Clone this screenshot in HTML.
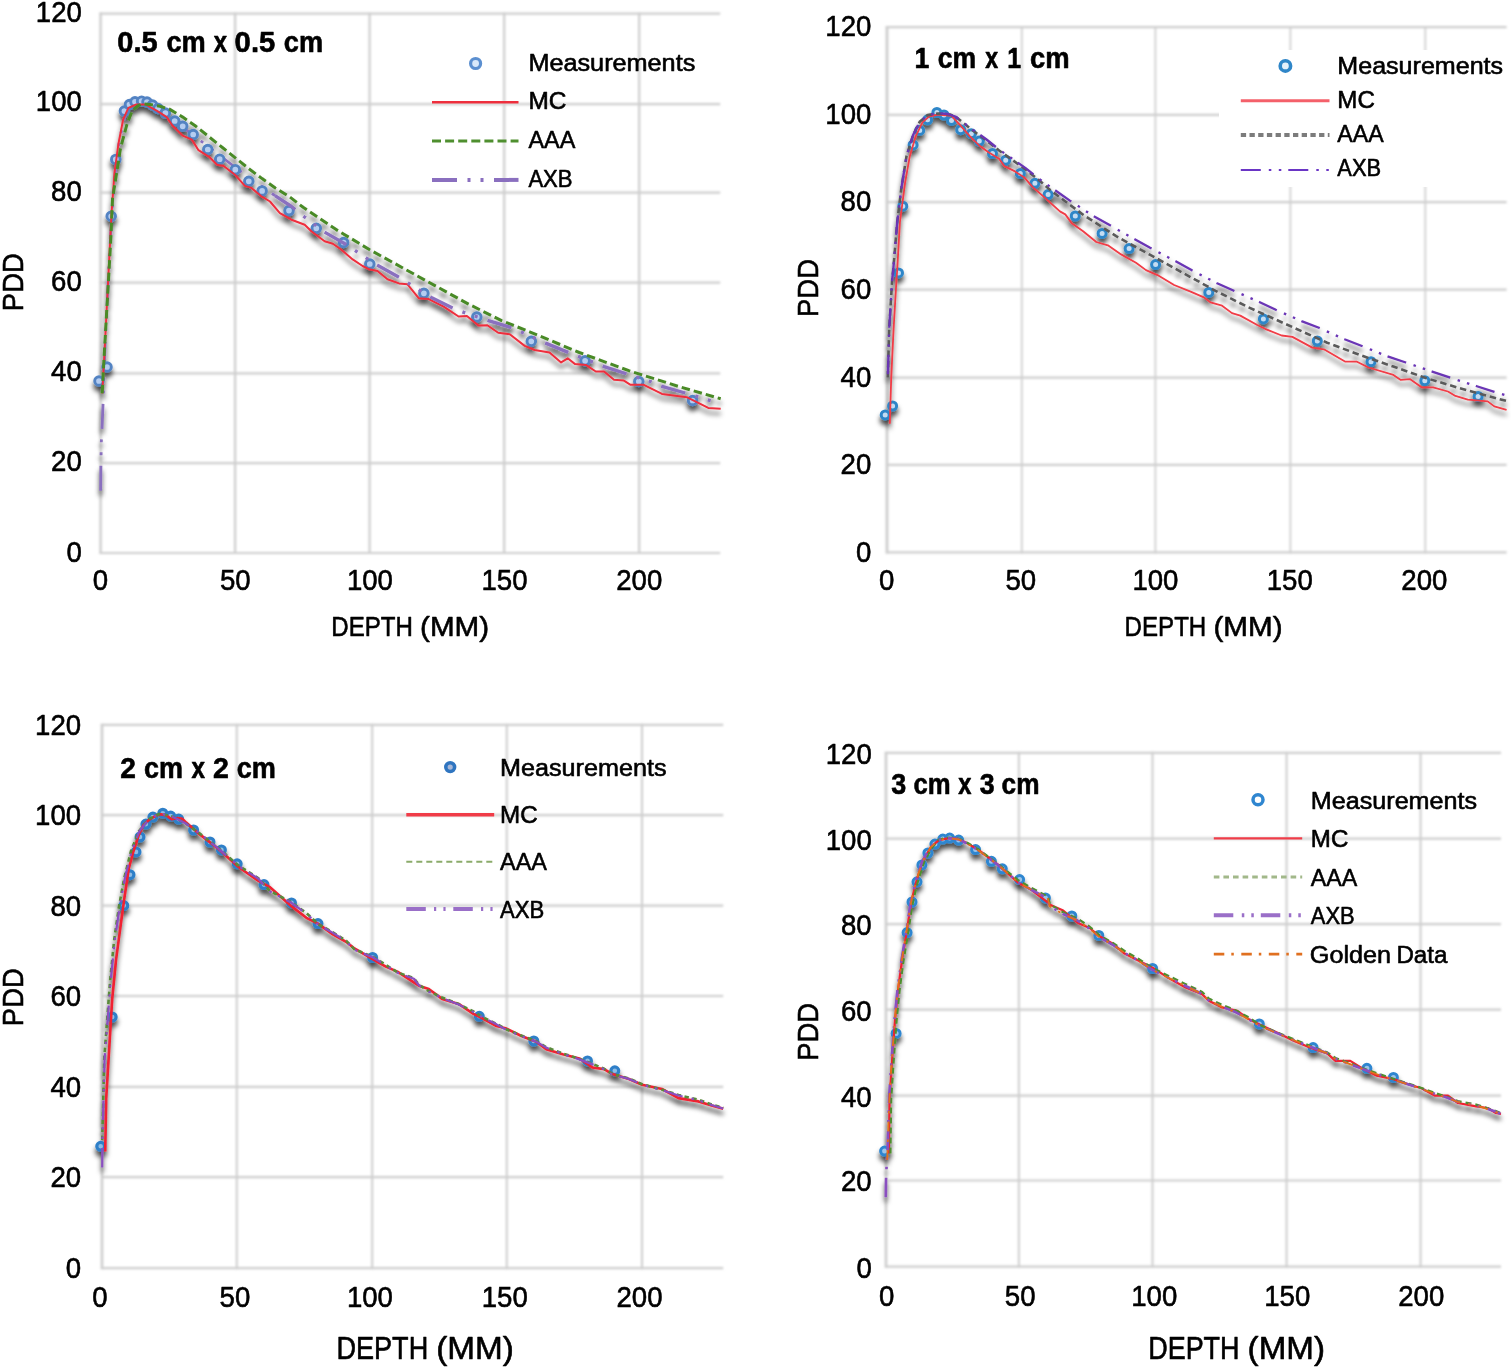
<!DOCTYPE html>
<html lang="en">
<head>
<meta charset="utf-8">
<title>PDD curves: Measurements, MC, AAA, AXB</title>
<style>
html,body{margin:0;padding:0;background:#fff;}
body{width:1511px;height:1368px;overflow:hidden;}
svg{display:block;}
svg text{font-family:"Liberation Sans",sans-serif;fill:#000;stroke:#000;stroke-width:0.6px;stroke-linejoin:round;}
</style>
</head>
<body>
<svg width="1511" height="1368" viewBox="0 0 1511 1368">
<defs><filter id="bl" x="-5%" y="-5%" width="110%" height="110%"><feGaussianBlur stdDeviation="0.8"/></filter><filter id="sh1" x="-5%" y="-5%" width="110%" height="115%"><feGaussianBlur in="SourceAlpha" stdDeviation="2.6" result="a"/><feOffset in="a" dx="-0.5" dy="5.2" result="b"/><feFlood flood-color="#000" flood-opacity="0.7"/><feComposite in2="b" operator="in" result="c"/><feMerge><feMergeNode in="c"/><feMergeNode in="SourceGraphic"/></feMerge></filter><filter id="sh2" x="-5%" y="-5%" width="110%" height="115%"><feGaussianBlur in="SourceAlpha" stdDeviation="2.6" result="a"/><feOffset in="a" dx="-0.5" dy="5.2" result="b"/><feFlood flood-color="#000" flood-opacity="0.7"/><feComposite in2="b" operator="in" result="c"/><feMerge><feMergeNode in="c"/><feMergeNode in="SourceGraphic"/></feMerge></filter><filter id="sh3" x="-5%" y="-5%" width="110%" height="115%"><feGaussianBlur in="SourceAlpha" stdDeviation="2.6" result="a"/><feOffset in="a" dx="-0.5" dy="5.2" result="b"/><feFlood flood-color="#000" flood-opacity="0.7"/><feComposite in2="b" operator="in" result="c"/><feMerge><feMergeNode in="c"/><feMergeNode in="SourceGraphic"/></feMerge></filter><filter id="sh4" x="-5%" y="-5%" width="110%" height="115%"><feGaussianBlur in="SourceAlpha" stdDeviation="2.6" result="a"/><feOffset in="a" dx="-0.5" dy="5.2" result="b"/><feFlood flood-color="#000" flood-opacity="0.7"/><feComposite in2="b" operator="in" result="c"/><feMerge><feMergeNode in="c"/><feMergeNode in="SourceGraphic"/></feMerge></filter></defs>
<rect x="0" y="0" width="1511" height="1368" fill="#fff"/>
<g id="chart1">
<g class="grid" filter="url(#bl)"><line x1="99.5" y1="13.7" x2="720.2" y2="13.7" stroke="#cecece" stroke-width="2.2"/><line x1="99.5" y1="104.1" x2="720.2" y2="104.1" stroke="#cecece" stroke-width="2.2"/><line x1="99.5" y1="192.6" x2="720.2" y2="192.6" stroke="#cecece" stroke-width="2.2"/><line x1="99.5" y1="282.6" x2="720.2" y2="282.6" stroke="#cecece" stroke-width="2.2"/><line x1="99.5" y1="373.3" x2="720.2" y2="373.3" stroke="#cecece" stroke-width="2.2"/><line x1="99.5" y1="463.2" x2="720.2" y2="463.2" stroke="#cecece" stroke-width="2.2"/><line x1="99.5" y1="553" x2="720.2" y2="553" stroke="#cecece" stroke-width="2.2"/><line x1="100.6" y1="12.6" x2="100.6" y2="554.1" stroke="#cecece" stroke-width="2.4"/><line x1="235.1" y1="12.6" x2="235.1" y2="554.1" stroke="#cecece" stroke-width="2.2"/><line x1="369.6" y1="12.6" x2="369.6" y2="554.1" stroke="#cecece" stroke-width="2.2"/><line x1="504.2" y1="12.6" x2="504.2" y2="554.1" stroke="#cecece" stroke-width="2.2"/><line x1="639.2" y1="12.6" x2="639.2" y2="554.1" stroke="#cecece" stroke-width="2.2"/></g>
<g class="series" filter="url(#sh1)"><polyline points="100.6,490.8 100.9,464 101.3,442 102,429 103,405 104.2,370 105.5,335 107.3,300 109,265 110.6,235 112.6,205 115.8,166 119.5,140 124,119 129.5,107.5 137,103.5 145,103.8 155,108 166,114.5 180,125 195,136.5 210,148 225,159.5 240,171 255,181.5 275,195.7" fill="none" stroke="#8a6fbf" stroke-width="2.8" stroke-linejoin="round" stroke-dasharray="25 10.5 3 10 3 10.5"/><g fill="#b4ccf0" stroke="#5283c3" stroke-width="2.9"><circle cx="99" cy="381" r="4.3"/><circle cx="107" cy="367" r="4.3"/><circle cx="111.2" cy="216.3" r="4.3"/><circle cx="115.8" cy="159.4" r="4.3"/><circle cx="124.4" cy="111.1" r="4.3"/><circle cx="129.5" cy="104.5" r="4.3"/><circle cx="135" cy="101.8" r="4.3"/><circle cx="141.6" cy="101.2" r="4.3"/><circle cx="147" cy="102" r="4.3"/><circle cx="152.5" cy="105" r="4.3"/><circle cx="158" cy="108.5" r="4.3"/><circle cx="165.4" cy="113.1" r="4.3"/><circle cx="174.7" cy="121" r="4.3"/><circle cx="182.7" cy="126.3" r="4.3"/><circle cx="193.2" cy="134.5" r="4.3"/><circle cx="207.8" cy="149.5" r="4.3"/><circle cx="219.7" cy="159.2" r="4.3"/><circle cx="235.3" cy="169.7" r="4.3"/><circle cx="248.8" cy="181.3" r="4.3"/><circle cx="262.1" cy="190.9" r="4.3"/><circle cx="289" cy="210.6" r="4.3"/><circle cx="316.3" cy="228.3" r="4.3"/><circle cx="343.6" cy="242.5" r="4.3"/><circle cx="369.8" cy="264" r="4.3"/><circle cx="423.9" cy="293.3" r="4.3"/><circle cx="476.8" cy="317" r="4.3"/><circle cx="531.3" cy="341.3" r="4.3"/><circle cx="585.1" cy="360.8" r="4.3"/><circle cx="638.8" cy="381.5" r="4.3"/><circle cx="692.6" cy="400.5" r="4.3"/></g><polyline points="102.2,393.4 104.2,358.7 106.2,319 108.2,279.3 110.2,239.6 111.6,212.4 114.5,172.7 118.5,143.5 123.1,119.7 128.4,107.8 136.3,104.5 145.6,104.5 156.2,110.4 166.8,117.1 172,125 182.7,135.6 191.9,139.6 198.5,150.2 209.1,156.8 217.1,164.7 223.7,166 235.6,175.3 244.9,185.9 251.5,187.9 260.7,195.8 270,201.5 279.9,213.1 291.5,219.7 304.7,224.7 311.4,231.3 324.6,241.2 332.9,243.7 341.1,249.5 352.7,259.4 362.6,266 369.3,269.3 377.5,271 387.5,279.3 399,283.4 407.3,284.2 418.9,298.3 428.8,299.1 443.7,306.6 458.6,316.5 466.9,316 478.5,325.6 487.4,325.2 498.2,332.7 509.8,334.3 524.7,345.9 534.6,350 549.5,352.5 561.1,362.4 567.7,358.3 575.1,364.1 585.9,364.9 595.8,371.5 604.1,371.5 614,379.8 623.9,380.6 630.6,384.8 643.8,384.8 662,393.9 686.8,397.2 708.3,407.9 720.7,408.8" fill="none" stroke="#ee2f3d" stroke-width="2" stroke-linejoin="round"/><polyline points="102.2,393.4 104.2,355 106.5,315 108.8,275 111,235 112.5,199.1 120.4,148.8 127.1,123.7 132.4,110.4 137.7,105.8 143,103.8 150,104.5 160,106.3 169.4,109.1 182.7,117.1 195.9,126.3 209.1,136.9 222.4,147.5 235.6,158.1 248.8,168.7 262.1,178.6 275.3,187.9 290,197.1 303.1,207.3 336.2,229.6 369.3,249.5 402.4,267.7 435.4,285.9 468.5,304.1 501.6,320.6 529.6,331.8 579.3,352.5 628.9,370.7 678.5,386.4 720.7,398.8" fill="none" stroke="#4a8a28" stroke-width="3" stroke-linejoin="round" stroke-dasharray="8.5 4"/><polyline points="275,195.7 291.5,206.5 304.2,216.7 324.6,232.1 346.1,244.5 356,251.1 375.9,264.4 398.2,276.8 431.3,297.5 452.8,308.2 463.9,312.4 488.4,320.6 511.6,327.7 523,332.7 546.2,343.4 568.5,352.5 604.1,366.6 627.3,374 650.4,381.5 662,386.4 685.2,393 710,400.5 720.7,403.5" fill="none" stroke="#8a6fbf" stroke-width="3.3" stroke-linejoin="round" stroke-dasharray="25 10.5 3 10 3 10.5" stroke-dashoffset="0.43"/></g>
<g class="legend"><circle cx="475.6" cy="63.5" r="5" fill="#d8e8fa" stroke="#5b8fd0" stroke-width="3.2"/><line x1="432" y1="102.3" x2="518.5" y2="102.3" stroke="#ee2f3d" stroke-width="2.6"/><line x1="432" y1="141" x2="518.5" y2="141" stroke="#4f8f2f" stroke-width="3" stroke-dasharray="9 4.1"/><line x1="432" y1="179.9" x2="518.5" y2="179.9" stroke="#8a6fbf" stroke-width="4" stroke-dasharray="25 10.5 3 10 3 10.5"/><text transform="translate(528.4 70.6) scale(1.0583 1)" font-size="23.85" fill="#000">Measurements</text><text transform="translate(528.4 108.9) scale(1.0244 1)" font-size="23.85" fill="#000">MC</text><text transform="translate(528.4 148) scale(0.9839 1)" font-size="23.85" fill="#000">AAA</text><text transform="translate(528.4 186.7) scale(0.9264 1)" font-size="23.85" fill="#000">AXB</text></g>
<g class="axes"><text transform="translate(35.78 22.35) scale(0.9300 1)" font-size="29.68" fill="#000">120</text><text transform="translate(35.78 111.35) scale(0.9300 1)" font-size="29.68" fill="#000">100</text><text transform="translate(51.09 200.65) scale(0.9300 1)" font-size="29.68" fill="#000">80</text><text transform="translate(51.09 290.75) scale(0.9300 1)" font-size="29.68" fill="#000">60</text><text transform="translate(51.09 381.15) scale(0.9300 1)" font-size="29.68" fill="#000">40</text><text transform="translate(51.09 471.35) scale(0.9300 1)" font-size="29.68" fill="#000">20</text><text transform="translate(66.48 561.55) scale(0.9300 1)" font-size="29.68" fill="#000">0</text><text transform="translate(92.64 590.3) scale(0.9300 1)" font-size="29.68" fill="#000">0</text><text transform="translate(219.95 590.3) scale(0.9300 1)" font-size="29.68" fill="#000">50</text><text transform="translate(346.89 590.3) scale(0.9300 1)" font-size="29.68" fill="#000">100</text><text transform="translate(481.49 590.3) scale(0.9300 1)" font-size="29.68" fill="#000">150</text><text transform="translate(616.19 590.3) scale(0.9300 1)" font-size="29.68" fill="#000">200</text><text y="52" font-size="28.95" font-weight="bold"><tspan x="117.34" textLength="40.37" lengthAdjust="spacingAndGlyphs">0.5</tspan> <tspan x="166.41" textLength="39.3" lengthAdjust="spacingAndGlyphs">cm</tspan> <tspan x="213.82" textLength="13.29" lengthAdjust="spacingAndGlyphs">x</tspan> <tspan x="234.63" textLength="40.68" lengthAdjust="spacingAndGlyphs">0.5</tspan> <tspan x="283.81" textLength="39.3" lengthAdjust="spacingAndGlyphs">cm</tspan></text><text y="636" font-size="27.64"><tspan x="331.31" textLength="81.58" lengthAdjust="spacingAndGlyphs">DEPTH</tspan> <tspan x="420.11" textLength="69.02" lengthAdjust="spacingAndGlyphs">(MM)</tspan></text><text transform="translate(23.25 311.16) rotate(-90) scale(0.9026 1)" font-size="30.4">PDD</text></g>
</g>
<g id="chart2">
<g class="grid" filter="url(#bl)"><line x1="885.9" y1="27.2" x2="1506.6" y2="27.2" stroke="#cecece" stroke-width="2.2"/><line x1="885.9" y1="114.8" x2="1506.6" y2="114.8" stroke="#cecece" stroke-width="2.2"/><line x1="885.9" y1="202.2" x2="1506.6" y2="202.2" stroke="#cecece" stroke-width="2.2"/><line x1="885.9" y1="289.6" x2="1506.6" y2="289.6" stroke="#cecece" stroke-width="2.2"/><line x1="885.9" y1="377.6" x2="1506.6" y2="377.6" stroke="#cecece" stroke-width="2.2"/><line x1="885.9" y1="464.8" x2="1506.6" y2="464.8" stroke="#cecece" stroke-width="2.2"/><line x1="885.9" y1="552.4" x2="1506.6" y2="552.4" stroke="#cecece" stroke-width="2.2"/><line x1="887" y1="26.1" x2="887" y2="553.5" stroke="#cecece" stroke-width="2.8"/><line x1="1021.8" y1="26.1" x2="1021.8" y2="553.5" stroke="#cecece" stroke-width="1.7"/><line x1="1155.4" y1="26.1" x2="1155.4" y2="553.5" stroke="#cecece" stroke-width="1.7"/><line x1="1290.4" y1="26.1" x2="1290.4" y2="553.5" stroke="#cecece" stroke-width="1.7"/><line x1="1425.3" y1="26.1" x2="1425.3" y2="553.5" stroke="#cecece" stroke-width="1.7"/></g>
<rect x="1219" y="50" width="291" height="137" fill="#fff"/>
<g class="series" filter="url(#sh2)"><g fill="#c4dcf2" stroke="#2f86c8" stroke-width="3"><circle cx="885.2" cy="414.9" r="4"/><circle cx="892.6" cy="406" r="4"/><circle cx="898.5" cy="272.9" r="4"/><circle cx="902.8" cy="206.2" r="4"/><circle cx="913.1" cy="144.9" r="4"/><circle cx="919.7" cy="130.4" r="4"/><circle cx="927.6" cy="119.8" r="4"/><circle cx="936.9" cy="112.5" r="4"/><circle cx="944" cy="115" r="4"/><circle cx="951.5" cy="120.4" r="4"/><circle cx="960.7" cy="129.7" r="4"/><circle cx="971.3" cy="133.7" r="4"/><circle cx="979.3" cy="141" r="4"/><circle cx="992.5" cy="153.5" r="4"/><circle cx="1005.7" cy="160.2" r="4"/><circle cx="1020.3" cy="173.4" r="4"/><circle cx="1034.9" cy="183.3" r="4"/><circle cx="1048.1" cy="194.6" r="4"/><circle cx="1075.3" cy="216" r="4"/><circle cx="1102.1" cy="233.4" r="4"/><circle cx="1129.1" cy="248.6" r="4"/><circle cx="1155.6" cy="264.6" r="4"/><circle cx="1208.8" cy="292.4" r="4"/><circle cx="1263.4" cy="318.9" r="4"/><circle cx="1317.3" cy="341" r="4"/><circle cx="1371" cy="361.7" r="4"/><circle cx="1424.8" cy="380.7" r="4"/><circle cx="1478.1" cy="396.4" r="4"/></g><polyline points="889.8,423.8 891.2,378.5 893.6,328.9 896.5,279.3 897.2,270 899.9,222.4 905.1,182.7 909.8,156.2 915.7,136.3 922.4,122.4 929,116.5 938.2,114.5 951.5,115.8 959.4,124.4 970,136.3 979.3,145.6 988.5,152.2 999.1,158.8 1004.4,166.1 1015,171.4 1024.3,177.4 1032.2,186.6 1042.8,195.9 1050,202.3 1059.9,211.4 1065.3,214.4 1071.5,222.9 1083.1,231.2 1096.3,242 1107.9,245.3 1121.1,254.4 1136,262.7 1146,270.1 1157.5,275.1 1174.1,285 1190.6,291.6 1203.9,297.4 1210.5,302.4 1222.1,305.7 1232,313.1 1240.3,315.6 1256.8,324.7 1265.1,328.8 1281.6,335.5 1292.4,336.9 1312.3,347.6 1323.9,349.3 1345.4,361.7 1357,361.7 1368.5,367.5 1393.4,374.9 1400.8,379.9 1409.9,379.1 1421.5,387.3 1433.1,387.3 1448,391.5 1454.6,395.6 1467.8,399.7 1487.7,401.4 1494.3,406.4 1506.6,409.8" fill="none" stroke="#f03c46" stroke-width="1.8" stroke-linejoin="round"/><polyline points="887.8,377.5 889.2,328.9 892.2,279.3 893.2,270 897.2,222.4 901.2,189.3 906.5,156.2 913.1,135 919.7,121.8 927.6,115.1 938,113.5 950,114.5 955.4,116.5 972.7,130.5 985.9,140 999.1,150.5 1012.4,160 1025.6,169.5 1038.8,180 1050,189.9 1083.1,214.7 1116.2,236.2 1149.3,254.4 1182.4,272.6 1215.5,290.8 1248.5,307.3 1281.6,322.2 1294.1,327.8 1327.2,342.7 1360.3,355.1 1393.4,366.6 1426.5,378.2 1459.5,388.2 1492.6,397.3 1506.6,401" fill="none" stroke="#5a5a5a" stroke-width="2.6" stroke-linejoin="round" stroke-dasharray="6.5 3.8"/><polyline points="887.8,377.5 889.2,328.9 892.2,279.3 893.2,270 897.2,222.4 901.2,189.3 906.5,156.2 913.1,135 919.7,121.8 927.6,115.1 938,113.2 948,114 955.4,116.5 972.7,129.7 985.9,139 999.1,149.6 1012.4,158.8 1025.6,168.1 1038.8,178.7 1055.8,190.7 1069.9,200.6 1093.8,216.3 1108.7,224.6 1135.2,239.5 1150.1,247.8 1175.7,261.3 1191.5,270.1 1217.1,283.3 1232.8,290.3 1259.3,302 1275.8,309.8 1301.5,321.1 1318.9,327.8 1344.6,339.3 1361.9,346 1387.6,356.4 1405.8,362.5 1432.2,371.6 1450.4,377.7 1476.1,386 1494.3,391.8 1506.6,395.6" fill="none" stroke="#6a35b5" stroke-width="2.3" stroke-linejoin="round" stroke-dasharray="19.6 7.8 2.5 7.3 2.5 6.85" stroke-dashoffset="43.3"/></g>
<g class="legend"><circle cx="1285.4" cy="65.9" r="5.2" fill="#e4f0fa" stroke="#2f86c8" stroke-width="3.6"/><line x1="1240.8" y1="100.7" x2="1329.5" y2="100.7" stroke="#f4606a" stroke-width="3"/><line x1="1240.8" y1="135" x2="1329.5" y2="135" stroke="#7c7c7c" stroke-width="4" stroke-dasharray="5.3 3.4"/><line x1="1240.8" y1="170" x2="1329.5" y2="170" stroke="#6a35c5" stroke-width="2" stroke-dasharray="20 8 2.5 7.5 2.5 7"/><text transform="translate(1337.3 73.9) scale(1.0387 1)" font-size="24.15" fill="#000">Measurements</text><text transform="translate(1337.3 107.8) scale(0.9988 1)" font-size="24.15" fill="#000">MC</text><text transform="translate(1337.3 142) scale(0.9596 1)" font-size="24.15" fill="#000">AAA</text><text transform="translate(1337.3 176.3) scale(0.9070 1)" font-size="24.15" fill="#000">AXB</text></g>
<g class="axes"><text transform="translate(825.28 36.35) scale(0.9300 1)" font-size="29.68" fill="#000">120</text><text transform="translate(825.28 123.95) scale(0.9300 1)" font-size="29.68" fill="#000">100</text><text transform="translate(840.59 211.35) scale(0.9300 1)" font-size="29.68" fill="#000">80</text><text transform="translate(840.59 298.75) scale(0.9300 1)" font-size="29.68" fill="#000">60</text><text transform="translate(840.59 386.85) scale(0.9300 1)" font-size="29.68" fill="#000">40</text><text transform="translate(840.59 474.05) scale(0.9300 1)" font-size="29.68" fill="#000">20</text><text transform="translate(855.98 561.95) scale(0.9300 1)" font-size="29.68" fill="#000">0</text><text transform="translate(878.94 590.4) scale(0.9300 1)" font-size="29.68" fill="#000">0</text><text transform="translate(1005.45 590.4) scale(0.9300 1)" font-size="29.68" fill="#000">50</text><text transform="translate(1132.39 590.4) scale(0.9300 1)" font-size="29.68" fill="#000">100</text><text transform="translate(1266.69 590.4) scale(0.9300 1)" font-size="29.68" fill="#000">150</text><text transform="translate(1401.29 590.4) scale(0.9300 1)" font-size="29.68" fill="#000">200</text><text y="67.8" font-size="28.95" font-weight="bold"><tspan x="914.43" textLength="14.83" lengthAdjust="spacingAndGlyphs">1</tspan> <tspan x="937.74" textLength="38.44" lengthAdjust="spacingAndGlyphs">cm</tspan> <tspan x="985.23" textLength="12.87" lengthAdjust="spacingAndGlyphs">x</tspan> <tspan x="1007.14" textLength="13.87" lengthAdjust="spacingAndGlyphs">1</tspan> <tspan x="1030" textLength="39.62" lengthAdjust="spacingAndGlyphs">cm</tspan></text><text y="636" font-size="27.64"><tspan x="1124.61" textLength="81.63" lengthAdjust="spacingAndGlyphs">DEPTH</tspan> <tspan x="1213.47" textLength="69.07" lengthAdjust="spacingAndGlyphs">(MM)</tspan></text><text transform="translate(818.05 316.96) rotate(-90) scale(0.9026 1)" font-size="30.4">PDD</text></g>
</g>
<g id="chart3">
<g class="grid" filter="url(#bl)"><line x1="100.9" y1="724.8" x2="723.2" y2="724.8" stroke="#cecece" stroke-width="2.2"/><line x1="100.9" y1="815.1" x2="723.2" y2="815.1" stroke="#cecece" stroke-width="2.2"/><line x1="100.9" y1="905.7" x2="723.2" y2="905.7" stroke="#cecece" stroke-width="2.2"/><line x1="100.9" y1="996" x2="723.2" y2="996" stroke="#cecece" stroke-width="2.2"/><line x1="100.9" y1="1086.8" x2="723.2" y2="1086.8" stroke="#cecece" stroke-width="2.2"/><line x1="100.9" y1="1177.2" x2="723.2" y2="1177.2" stroke="#cecece" stroke-width="2.2"/><line x1="100.9" y1="1268.2" x2="723.2" y2="1268.2" stroke="#cecece" stroke-width="2.2"/><line x1="102" y1="723.7" x2="102" y2="1269.3" stroke="#cecece" stroke-width="2.6"/><line x1="236.8" y1="723.7" x2="236.8" y2="1269.3" stroke="#cecece" stroke-width="2"/><line x1="372.2" y1="723.7" x2="372.2" y2="1269.3" stroke="#cecece" stroke-width="2"/><line x1="506.8" y1="723.7" x2="506.8" y2="1269.3" stroke="#cecece" stroke-width="2"/><line x1="642" y1="723.7" x2="642" y2="1269.3" stroke="#cecece" stroke-width="2"/></g>
<g class="series" filter="url(#sh3)"><g fill="#8fbce4" stroke="#2f7fc8" stroke-width="3.2"><circle cx="100.7" cy="1146.3" r="3.9"/><circle cx="112.2" cy="1017" r="3.9"/><circle cx="123.8" cy="905.6" r="3.9"/><circle cx="130" cy="874.7" r="3.9"/><circle cx="136" cy="851.9" r="3.9"/><circle cx="140" cy="837" r="3.9"/><circle cx="145.9" cy="824.1" r="3.9"/><circle cx="152.9" cy="817.1" r="3.9"/><circle cx="162.8" cy="813.2" r="3.9"/><circle cx="170.7" cy="816.1" r="3.9"/><circle cx="178.7" cy="819.1" r="3.9"/><circle cx="193.6" cy="830" r="3.9"/><circle cx="210" cy="842" r="3.9"/><circle cx="221.4" cy="849.9" r="3.9"/><circle cx="237.2" cy="863.8" r="3.9"/><circle cx="264" cy="884.6" r="3.9"/><circle cx="291.5" cy="902.9" r="3.9"/><circle cx="318" cy="923.6" r="3.9"/><circle cx="372.6" cy="957.5" r="3.9"/><circle cx="479.3" cy="1016.3" r="3.9"/><circle cx="533.8" cy="1041" r="3.9"/><circle cx="587.5" cy="1060.9" r="3.9"/><circle cx="614.8" cy="1070.8" r="3.9"/></g><polyline points="105.2,1151.6 106.2,1098.4 109.2,1048.8 112.2,999.1 116.1,959.4 120.1,929.6 124.1,900 128.8,868.5 133.4,851.5 138.6,835.5 143.8,824.5 149.8,819.3 156,815.6 161,814.2 166.3,815.4 171.6,819.3 177.6,818 182.2,818.8 186.2,822.6 192.8,828.3 198.5,833.4 218.4,848.9 238.2,866.8 258.1,880.7 270,887.2 291.5,906.3 306.4,917.8 318,923.6 332.9,934.4 346.1,941.8 354.4,948.4 372.6,959.2 385.8,966.6 397.4,971.6 413.9,982.4 418.9,985.7 428.8,989 442.1,998.9 458.6,1003.9 473.5,1013.8 483.4,1018.8 496.5,1026.1 506.5,1028.6 521.4,1036 536.3,1041.8 546.2,1049.3 562.7,1054.2 579.3,1058.4 592.5,1067.5 604.1,1069.1 612.4,1074.1 628.9,1079 642.1,1084.8 662,1089 678.5,1098.1 698.4,1101.4 711.6,1105.5 723.2,1108.8" fill="none" stroke="#f02030" stroke-width="2.6" stroke-linejoin="round"/><polyline points="102.2,1140 102.8,1118.2 104.2,1058.7 107.2,1019 110.2,979.3 114.2,939.6 119.1,905.8 124.1,878.7 131,850.9 139,831 148.9,819.1 160,813.5 172,816.5 185,823 198.5,832.5 218.4,848.1 238.2,865.3 258.1,877.99 270,890.96 291.5,902.32 306.4,913.06 318,923.98 332.9,932.4 346.1,940.68 354.4,949.28 372.6,956.72 385.8,964.84 397.4,972.3 413.9,978.26 418.9,984.72 428.8,991.18 442.1,997.46 458.6,1004.08 473.5,1011.5 483.4,1017.44 496.5,1023.86 506.5,1029.46 521.4,1035.56 536.3,1041.18 546.2,1047.14 562.7,1053.44 579.3,1058.9 592.5,1063.86 604.1,1068.82 612.4,1074.1 628.9,1078.4 642.1,1084.2 662,1089.66 678.5,1094.96 698.4,1099.76 711.6,1104.43 723.2,1108" fill="none" stroke="#5a8a3a" stroke-width="2.6" stroke-linejoin="round" stroke-dasharray="4.5 3.5"/><polyline points="102.2,1167.5 102.4,1140 103,1118.2 104.6,1058.7 107.7,1019 110.8,979.3 114.9,939.6 119.8,905.8 124.8,878.7 131.6,850.9 139.5,831 149.2,819.1 160,813.5 172,816.5 185,823 198.5,832.5 218.4,848.6 238.2,865.8 258.1,878.49 270,891.46 291.5,902.82 306.4,913.56 318,924.48 332.9,932.9 346.1,941.18 354.4,949.78 372.6,957.22 385.8,965.34 397.4,972.8 413.9,978.76 418.9,985.22 428.8,991.68 442.1,997.96 458.6,1004.58 473.5,1012 483.4,1017.94 496.5,1024.36 506.5,1029.96 521.4,1036.06 536.3,1041.68 546.2,1047.64 562.7,1053.94 579.3,1059.4 592.5,1064.36 604.1,1069.32 612.4,1074.6 628.9,1078.9 642.1,1084.7 662,1090.16 678.5,1095.46 698.4,1100.26 711.6,1104.93 723.2,1108.5" fill="none" stroke="#8a4fc0" stroke-width="2.2" stroke-linejoin="round" stroke-dasharray="19.5 9 2.5 7 2.5 7"/></g>
<g class="legend"><circle cx="450.2" cy="767.1" r="4.4" fill="#a8b8d8" stroke="#2f75c0" stroke-width="3.6"/><line x1="406.3" y1="814.8" x2="494.2" y2="814.8" stroke="#f03c48" stroke-width="3.6"/><line x1="406.3" y1="861.8" x2="494.2" y2="861.8" stroke="#8aab6a" stroke-width="2" stroke-dasharray="6 4"/><line x1="406.3" y1="908.9" x2="494.2" y2="908.9" stroke="#9a6fc8" stroke-width="4" stroke-dasharray="19.5 8.2 2.2 7.2 2.2 7.7"/><text transform="translate(500 775.9) scale(1.0558 1)" font-size="23.85" fill="#000">Measurements</text><text transform="translate(500 823.2) scale(1.0136 1)" font-size="23.85" fill="#000">MC</text><text transform="translate(500 870.2) scale(0.9839 1)" font-size="23.85" fill="#000">AAA</text><text transform="translate(500 917.5) scale(0.9285 1)" font-size="23.85" fill="#000">AXB</text></g>
<g class="axes"><text transform="translate(35.08 735.05) scale(0.9300 1)" font-size="29.68" fill="#000">120</text><text transform="translate(35.08 825.35) scale(0.9300 1)" font-size="29.68" fill="#000">100</text><text transform="translate(50.39 915.95) scale(0.9300 1)" font-size="29.68" fill="#000">80</text><text transform="translate(50.39 1006.25) scale(0.9300 1)" font-size="29.68" fill="#000">60</text><text transform="translate(50.39 1097.05) scale(0.9300 1)" font-size="29.68" fill="#000">40</text><text transform="translate(50.39 1187.45) scale(0.9300 1)" font-size="29.68" fill="#000">20</text><text transform="translate(65.78 1278.45) scale(0.9300 1)" font-size="29.68" fill="#000">0</text><text transform="translate(92.24 1306.5) scale(0.9300 1)" font-size="29.68" fill="#000">0</text><text transform="translate(219.55 1306.5) scale(0.9300 1)" font-size="29.68" fill="#000">50</text><text transform="translate(346.89 1306.5) scale(0.9300 1)" font-size="29.68" fill="#000">100</text><text transform="translate(481.69 1306.5) scale(0.9300 1)" font-size="29.68" fill="#000">150</text><text transform="translate(616.49 1306.5) scale(0.9300 1)" font-size="29.68" fill="#000">200</text><text y="777.9" font-size="28.95" font-weight="bold"><tspan x="120.32" textLength="15.64" lengthAdjust="spacingAndGlyphs">2</tspan> <tspan x="144.12" textLength="38.97" lengthAdjust="spacingAndGlyphs">cm</tspan> <tspan x="191.42" textLength="13.49" lengthAdjust="spacingAndGlyphs">x</tspan> <tspan x="212.9" textLength="15.87" lengthAdjust="spacingAndGlyphs">2</tspan> <tspan x="236.72" textLength="39.19" lengthAdjust="spacingAndGlyphs">cm</tspan></text><text y="1358.7" font-size="31.27"><tspan x="336.47" textLength="91.74" lengthAdjust="spacingAndGlyphs">DEPTH</tspan> <tspan x="436.24" textLength="77.63" lengthAdjust="spacingAndGlyphs">(MM)</tspan></text><text transform="translate(23.35 1026.16) rotate(-90) scale(0.9026 1)" font-size="30.4">PDD</text></g>
</g>
<g id="chart4">
<g class="grid" filter="url(#bl)"><line x1="884.9" y1="752.8" x2="1501" y2="752.8" stroke="#cecece" stroke-width="2.2"/><line x1="884.9" y1="838.6" x2="1501" y2="838.6" stroke="#cecece" stroke-width="2.2"/><line x1="884.9" y1="924.2" x2="1501" y2="924.2" stroke="#cecece" stroke-width="2.2"/><line x1="884.9" y1="1009.7" x2="1501" y2="1009.7" stroke="#cecece" stroke-width="2.2"/><line x1="884.9" y1="1095.7" x2="1501" y2="1095.7" stroke="#cecece" stroke-width="2.2"/><line x1="884.9" y1="1180.5" x2="1501" y2="1180.5" stroke="#cecece" stroke-width="2.2"/><line x1="884.9" y1="1266.6" x2="1501" y2="1266.6" stroke="#cecece" stroke-width="2.2"/><line x1="886" y1="751.7" x2="886" y2="1267.7" stroke="#cecece" stroke-width="2.6"/><line x1="1018.9" y1="751.7" x2="1018.9" y2="1267.7" stroke="#cecece" stroke-width="2"/><line x1="1152.5" y1="751.7" x2="1152.5" y2="1267.7" stroke="#cecece" stroke-width="2"/><line x1="1286.6" y1="751.7" x2="1286.6" y2="1267.7" stroke="#cecece" stroke-width="2"/><line x1="1420.6" y1="751.7" x2="1420.6" y2="1267.7" stroke="#cecece" stroke-width="2"/></g>
<g class="series" filter="url(#sh4)"><g fill="#9cc4e8" stroke="#2f86d0" stroke-width="3"><circle cx="884.6" cy="1151.1" r="4"/><circle cx="896.1" cy="1033.4" r="4"/><circle cx="907.1" cy="932.6" r="4"/><circle cx="912" cy="902" r="4"/><circle cx="917" cy="881.8" r="4"/><circle cx="921.9" cy="864.9" r="4"/><circle cx="927.9" cy="853" r="4"/><circle cx="934.9" cy="844.1" r="4"/><circle cx="942.8" cy="839.1" r="4"/><circle cx="949.7" cy="838.1" r="4"/><circle cx="958.7" cy="840.1" r="4"/><circle cx="975.6" cy="849.6" r="4"/><circle cx="991.4" cy="861.3" r="4"/><circle cx="1002.3" cy="868.8" r="4"/><circle cx="1019.6" cy="879.6" r="4"/><circle cx="1045.4" cy="897.9" r="4"/><circle cx="1071.8" cy="916" r="4"/><circle cx="1098.8" cy="935.4" r="4"/><circle cx="1152.6" cy="968.5" r="4"/><circle cx="1259.3" cy="1023.9" r="4"/><circle cx="1313.1" cy="1047.6" r="4"/><circle cx="1366.9" cy="1068.3" r="4"/><circle cx="1393.4" cy="1077.4" r="4"/></g><polyline points="888.8,1153.6 889.6,1098.5 892.2,1058.8 895.1,1019.1 898.1,989.3 902.1,959.6 906.1,935.7 910,909.9 912,898.7 917,878.8 922.9,861 930.9,847.1 938.8,840.1 948.8,838.1 958.7,839.1 968.6,844.1 978.5,850 998.4,864.9 1018.2,882.8 1030.1,888.8 1048,902.6 1050,904.8 1063.2,910.6 1078.1,923 1089.7,928 1099.6,936.3 1112.9,943.7 1124.5,953.6 1139.3,961.1 1152.6,967.7 1169.1,978.4 1185.7,987.5 1202.2,994.2 1208.8,1000.8 1222.1,1007.4 1237,1010.7 1248.5,1019 1260.1,1024.8 1277.5,1032.7 1294.1,1041 1312.3,1048.4 1327.2,1053.4 1335.5,1060.9 1350.3,1060.9 1363.6,1069.1 1376.8,1075.7 1393.4,1079.1 1409.9,1084.8 1421.5,1088.2 1434.7,1095.6 1448,1095.6 1457.9,1103 1476.1,1106.4 1487.7,1108 1495.9,1113 1501,1113.8" fill="none" stroke="#f02030" stroke-width="2.2" stroke-linejoin="round"/><polyline points="890.4,1153.6 891.2,1098.5 893.8,1058.8 896.7,1019.1 899.7,989.3 903.7,959.6 907.7,935.7 911.6,909.9 913.6,898.7 918.6,878.8 924.5,861 932.5,847.1 938.8,839.5 948.8,837.5 958.7,838.5 968.6,843.5 978.5,849.4 998.4,864.3 1018.2,880.18 1030.1,887.19 1048,896.55 1050,904.36 1063.2,912.2 1078.1,918.94 1089.7,926.72 1099.6,935.32 1112.9,942.94 1124.5,950.88 1139.3,959.3 1152.6,968.06 1169.1,976.18 1185.7,984.12 1202.2,992.06 1208.8,998.52 1222.1,1004.82 1237,1010.94 1248.5,1017.32 1260.1,1025.04 1277.5,1032.58 1294.1,1039.46 1312.3,1046.68 1327.2,1052.32 1335.5,1057.94 1350.3,1063.4 1363.6,1068.54 1376.8,1073.32 1393.4,1078.78 1409.9,1084.08 1421.5,1088.06 1434.7,1092.84 1448,1097.16 1457.9,1101.12 1476.1,1104.6 1487.7,1108.24 1495.9,1111 1501,1113.2" fill="none" stroke="#4f8f2f" stroke-width="2.2" stroke-linejoin="round" stroke-dasharray="6 4"/><polyline points="885.8,1197.3 886,1180.5 886.6,1166 887.6,1150 889,1098.5 891.6,1058.8 894.5,1019.1 897.5,989.3 901.5,959.6 905.5,935.7 909.4,909.9 911.4,898.7 916.4,878.8 922.3,861 930.3,847.1 938.2,840.1 948.2,838.1 958.1,839.1 968,844.1 977.9,850 997.8,864.9 1017.6,881.78 1029.5,888.79 1047.4,898.15 1049.4,905.96 1062.6,913.8 1077.5,920.54 1089.1,928.32 1099,936.92 1112.3,944.54 1123.9,952.48 1138.7,960.9 1152,969.66 1168.5,977.78 1185.1,985.72 1201.6,993.66 1208.2,1000.12 1221.5,1006.42 1236.4,1012.54 1247.9,1018.92 1259.5,1025.64 1276.9,1033.18 1293.5,1040.06 1311.7,1047.28 1326.6,1052.92 1334.9,1058.54 1349.7,1064 1363,1069.14 1376.2,1073.92 1392.8,1079.38 1409.3,1084.68 1420.9,1088.66 1434.1,1093.44 1447.4,1097.76 1457.3,1101.72 1475.5,1105.2 1487.1,1108.84 1495.3,1111.6 1500.4,1113.8" fill="none" stroke="#8a4fc0" stroke-width="2.6" stroke-linejoin="round" stroke-dasharray="19.5 8.5 2.5 7 2.5 7"/><polyline points="887.2,1160 889.3,1098.7 891.9,1059 894.8,1019.3 897.8,989.5 901.8,959.8 905.8,935.9 909.7,910.1 911.7,898.9 916.7,879 922.6,861.2 930.6,847.3 938.5,840.3 948.5,838.3 958.4,839.3 968.3,844.3 978.2,850.2 998.1,865.1 1017.9,881.98 1029.8,888.99 1047.7,898.35 1049.7,906.16 1062.9,914 1077.8,920.74 1089.4,928.52 1099.3,937.12 1112.6,944.74 1124.2,952.68 1139,961.1 1152.3,969.86 1168.8,977.98 1185.4,985.92 1201.9,993.86 1208.5,1000.32 1221.8,1006.62 1236.7,1012.74 1248.2,1019.12 1259.8,1025.84 1277.2,1033.38 1293.8,1040.26 1312,1047.48 1326.9,1053.12 1335.2,1058.74 1350,1064.2 1363.3,1069.34 1376.5,1074.12 1393.1,1079.58 1409.6,1084.88 1421.2,1088.86 1434.4,1093.64 1447.7,1097.96 1457.6,1101.92 1475.8,1105.4 1487.4,1109.04 1495.6,1111.8 1500.7,1114" fill="none" stroke="#e0701a" stroke-width="1.8" stroke-linejoin="round" stroke-dasharray="10 8 2.5 8"/></g>
<g class="legend"><circle cx="1258" cy="799.7" r="5" fill="#ffffff" stroke="#2f86d0" stroke-width="3.5"/><line x1="1213.8" y1="838.3" x2="1302.2" y2="838.3" stroke="#f03c48" stroke-width="2.2"/><line x1="1213.8" y1="877" x2="1302.2" y2="877" stroke="#a2b88a" stroke-width="3" stroke-dasharray="5.6 4"/><line x1="1213.8" y1="915.3" x2="1302.2" y2="915.3" stroke="#9a6fc8" stroke-width="4" stroke-dasharray="19.5 8.5 2.5 7 2.5 7"/><line x1="1213.8" y1="954.1" x2="1302.2" y2="954.1" stroke="#e07020" stroke-width="2.6" stroke-dasharray="10.5 7 2.5 7.5"/><text transform="translate(1310.8 809) scale(1.0418 1)" font-size="24.15" fill="#000">Measurements</text><text transform="translate(1310.8 846.8) scale(0.9988 1)" font-size="24.15" fill="#000">MC</text><text transform="translate(1310.8 885.7) scale(0.9638 1)" font-size="24.15" fill="#000">AAA</text><text transform="translate(1310.8 923.8) scale(0.9070 1)" font-size="24.15" fill="#000">AXB</text><text y="962.6" font-size="24.15"><tspan x="1309.84" textLength="81.28" lengthAdjust="spacingAndGlyphs">Golden</tspan> <tspan x="1396.45" textLength="51.01" lengthAdjust="spacingAndGlyphs">Data</tspan></text></g>
<g class="axes"><text transform="translate(825.68 763.75) scale(0.9300 1)" font-size="29.68" fill="#000">120</text><text transform="translate(825.68 849.55) scale(0.9300 1)" font-size="29.68" fill="#000">100</text><text transform="translate(841 935.15) scale(0.9300 1)" font-size="29.68" fill="#000">80</text><text transform="translate(841 1020.65) scale(0.9300 1)" font-size="29.68" fill="#000">60</text><text transform="translate(841 1106.65) scale(0.9300 1)" font-size="29.68" fill="#000">40</text><text transform="translate(841 1191.45) scale(0.9300 1)" font-size="29.68" fill="#000">20</text><text transform="translate(856.38 1277.55) scale(0.9300 1)" font-size="29.68" fill="#000">0</text><text transform="translate(878.94 1306.2) scale(0.9300 1)" font-size="29.68" fill="#000">0</text><text transform="translate(1004.85 1306.2) scale(0.9300 1)" font-size="29.68" fill="#000">50</text><text transform="translate(1131.19 1306.2) scale(0.9300 1)" font-size="29.68" fill="#000">100</text><text transform="translate(1264.19 1306.2) scale(0.9300 1)" font-size="29.68" fill="#000">150</text><text transform="translate(1398.19 1306.2) scale(0.9300 1)" font-size="29.68" fill="#000">200</text><text y="794.4" font-size="28.95" font-weight="bold"><tspan x="891.19" textLength="14.98" lengthAdjust="spacingAndGlyphs">3</tspan> <tspan x="913.57" textLength="37.14" lengthAdjust="spacingAndGlyphs">cm</tspan> <tspan x="958.32" textLength="13.18" lengthAdjust="spacingAndGlyphs">x</tspan> <tspan x="979.7" textLength="14.87" lengthAdjust="spacingAndGlyphs">3</tspan> <tspan x="1001.55" textLength="37.9" lengthAdjust="spacingAndGlyphs">cm</tspan></text><text y="1358.7" font-size="31.27"><tspan x="1148.17" textLength="91.42" lengthAdjust="spacingAndGlyphs">DEPTH</tspan> <tspan x="1247.6" textLength="77.36" lengthAdjust="spacingAndGlyphs">(MM)</tspan></text><text transform="translate(818.25 1060.76) rotate(-90) scale(0.9026 1)" font-size="30.4">PDD</text></g>
</g>
</svg>
</body>
</html>
